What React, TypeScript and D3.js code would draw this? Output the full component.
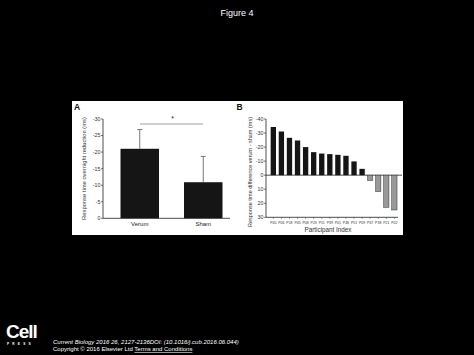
import React from "react";
import * as d3 from "d3";

const groupsA = ["Verum", "Sham"];
const meansA = [-21, -10.9];
const errA = [-26.8, -18.7];
const ticksA = [0, -5, -10, -15, -20, -25, -30];

const participants = ["P40","P06","P18","P45","P08","P23","P11","P39","P01","P48","P51","P09","P37","P38","P21","P02"];
const diffs = [-34.3,-31.1,-26.6,-24.7,-20,-16.4,-15.4,-15,-14.5,-13.8,-9.8,-4.5,3.8,11.7,22.9,24.8];
const ticksB = [-40,-30,-20,-10,0,10,20,30];

const FONT = "Liberation Sans, Arial, Helvetica, sans-serif";

export default function App() {
  const yA = d3.scaleLinear().domain([0, -30]).range([218.3, 119]);
  const xA = d3.scaleBand().domain(groupsA).range([108, 235]).paddingInner(0.7).paddingOuter(0.35);
  const yB = d3.scaleLinear().domain([-40, 30]).range([119, 217.3]);
  const xB = d3.scaleBand().domain(participants).range([269.3, 398.4]).paddingInner(0.34).paddingOuter(0.17);

  return (
    <svg width={474} height={355} style={{ position: "fixed", left: 0, top: 0, background: "#000" }} fontFamily={FONT}>
      <rect x={0} y={0} width={474} height={355} fill="#000" />
      <text x={237} y={15.5} fill="#fff" fontSize={9} textAnchor="middle">Figure 4</text>
      <rect x={72} y={101} width={331} height={134} fill="#fff" />

      {/* Panel A */}
      <text x={74} y={110} fontSize={8.5} fontWeight="bold" fill="#111">A</text>
      <line x1={103} x2={103} y1={119} y2={218.3} stroke="#222" strokeWidth={0.8} />
      <line x1={103} x2={230} y1={218.3} y2={218.3} stroke="#222" strokeWidth={0.8} />
      {ticksA.map(t => (
        <g key={t}>
          <line x1={101} x2={103} y1={yA(t)} y2={yA(t)} stroke="#222" strokeWidth={0.6} />
          <text x={100.5} y={yA(t) + 1.9} fontSize={5.3} textAnchor="end" fill="#333">{String(t)}</text>
        </g>
      ))}
      {groupsA.map((g, i) => {
        const cx = xA(g)! + xA.bandwidth() / 2;
        const barW = 38.5;
        return (
          <g key={g}>
            <rect x={cx - barW / 2} y={yA(meansA[i])} width={barW} height={yA(0) - yA(meansA[i])} fill="#151515" />
            <line x1={cx} x2={cx} y1={yA(meansA[i])} y2={yA(errA[i])} stroke="#555" strokeWidth={0.8} />
            <line x1={cx - 2.5} x2={cx + 2.5} y1={yA(errA[i])} y2={yA(errA[i])} stroke="#555" strokeWidth={0.8} />
            <text x={cx} y={226} fontSize={6} textAnchor="middle" fill="#222">{g}</text>
          </g>
        );
      })}
      <line x1={140} x2={203} y1={124} y2={124} stroke="#888" strokeWidth={0.8} />
      <text x={172.5} y={121} fontSize={7} textAnchor="middle" fill="#222">*</text>
      <text transform={`translate(86,168.5) rotate(-90)`} fontSize={5.8} textAnchor="middle" fill="#333">Response time overnight reduction (ms)</text>

      {/* Panel B */}
      <text x={236.5} y={110} fontSize={8.5} fontWeight="bold" fill="#111">B</text>
      <line x1={266} x2={266} y1={119} y2={217.3} stroke="#222" strokeWidth={0.8} />
      <line x1={266} x2={398} y1={217.3} y2={217.3} stroke="#222" strokeWidth={0.8} />
      <line x1={266} x2={402} y1={yB(0)} y2={yB(0)} stroke="#222" strokeWidth={0.8} />
      {ticksB.map(t => (
        <g key={t}>
          <line x1={264} x2={266} y1={yB(t)} y2={yB(t)} stroke="#222" strokeWidth={0.6} />
          <text x={263.5} y={yB(t) + 1.9} fontSize={5.3} textAnchor="end" fill="#333">{String(t)}</text>
        </g>
      ))}
      {participants.map((p, i) => {
        const v = diffs[i];
        const x = xB(p)!;
        const w = xB.bandwidth();
        const y0 = yB(Math.min(0, v));
        const h = Math.abs(yB(v) - yB(0));
        const neg = v < 0;
        return (
          <g key={p}>
            <rect x={x} y={y0} width={w} height={h} fill={neg ? "#151515" : "#999"} stroke={neg ? "none" : "#333"} strokeWidth={0.5} />
            <line x1={x + w / 2} x2={x + w / 2} y1={217.3} y2={218.8} stroke="#222" strokeWidth={0.5} />
            <text x={x + w / 2} y={223.5} fontSize={3.5} textAnchor="middle" fill="#333">{p}</text>
          </g>
        );
      })}
      <text x={328} y={232} fontSize={6.3} textAnchor="middle" fill="#333">Participant Index</text>
      <text transform={`translate(252,172) rotate(-90)`} fontSize={5.5} textAnchor="middle" fill="#333">Response time difference verum - sham (ms)</text>

      {/* Footer */}
      <text x={6} y={338} fontSize={19} fontWeight="bold" fill="#fff" letterSpacing={-1}>Cell</text>
      <text x={7} y={344.5} fontSize={3.2} fontWeight="bold" fill="#fff" letterSpacing={3.2}>PRESS</text>
      <text x={53} y={343.5} fontSize={6} fontStyle="italic" fill="#fff">Current Biology 2016 26, 2127-2136DOI: (10.1016/j.cub.2016.06.044)</text>
      <text x={53} y={351} fontSize={6} fill="#fff">Copyright © 2016 Elsevier Ltd <tspan textDecoration="underline">Terms and Conditions</tspan></text>
    </svg>
  );
}
